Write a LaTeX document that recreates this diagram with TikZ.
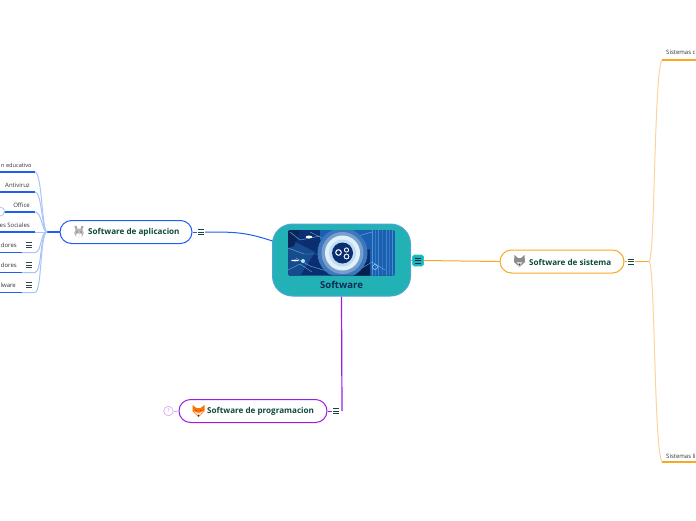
\documentclass[tikz,border=0pt]{standalone}
\usepackage{fontspec}
\setmainfont{Open Sans}
\definecolor{blu}{HTML}{1F5EF0}
\definecolor{blul}{HTML}{A9C4FA}
\definecolor{org}{HTML}{F9A825}
\definecolor{orgl}{HTML}{FBD49A}
\definecolor{pur}{HTML}{9A1FE0}
\definecolor{purl}{HTML}{DDB5F5}
\definecolor{teal1}{HTML}{22B2B5}
\definecolor{edgeb}{HTML}{4FA3D6}
\definecolor{ink}{HTML}{0F4A3C}
\definecolor{navy}{HTML}{0C2A55}
\definecolor{mgrey}{HTML}{33444A}
\definecolor{picdark}{HTML}{0B2E70}
\definecolor{picmid}{HTML}{1B5FB0}
\definecolor{picline}{HTML}{6FB4E8}
\tikzset{
  x=1pt,y=-1pt,
  mainbox/.style={draw=#1,line width=1pt,rounded corners=11.5pt,fill=white,minimum height=23pt,inner sep=0pt},
  maintext/.style={font=\bfseries\fontsize{8.1}{10}\selectfont,text=ink,inner sep=0pt},
  leaf/.style={font=\fontsize{6}{8}\selectfont,text=black!80,inner sep=0pt},
  menu/.style={minimum width=8pt,minimum height=7pt,inner sep=0pt,
    path picture={\draw[#1,line width=.7pt]
      ([xshift=-3.2pt,yshift=-2.5pt]path picture bounding box.center)--++(6.4pt,0pt)
      ([xshift=-3.2pt]path picture bounding box.center)--++(6.4pt,0pt)
      ([xshift=-3.2pt,yshift=2.5pt]path picture bounding box.center)--++(6.4pt,0pt);}},
  thin b/.style={draw=blul,line width=1pt},
  thick b/.style={draw=blu,line width=1.3pt},
  thin o/.style={draw=orgl,line width=1pt},
  thick o/.style={draw=org,line width=1.3pt},
}
\begin{document}
\begin{tikzpicture}
\useasboundingbox (0,0) rectangle (696,520);
\fill[white] (0,0) rectangle (696,520);

% central node
\node[draw=edgeb,line width=1pt,fill=teal1,rounded corners=20pt,minimum width=138pt,minimum height=72pt,inner sep=0pt] (center) at (341.5,260) {};
\node[font=\bfseries\fontsize{9.6}{12}\selectfont,text=navy,inner sep=0pt] (title) at (341.5,284.7) {Software};

% central picture
\begin{scope}
\clip[rounded corners=1.5pt] (288,230) rectangle (395,275.5);
\fill[picdark] (288,230) rectangle (395,276);
\fill[picmid] (320,230) -- (372,230) -- (372,250) -- (320,240) -- cycle;
\fill[picmid!80!black] (288,238) -- (315,252) -- (300,276) -- (288,276) -- cycle;
\fill[picmid] (370,230) rectangle (395,276);
\fill[picdark!80!black] (288,230) -- (300,230) -- (294,246) -- (288,248) -- cycle;
\fill[picdark!70!black] (330,272) -- (370,262) -- (370,276) -- (330,276) -- cycle;
\foreach \xx/\cc in {372/60,375/30,378/50,382/25,386/45,389/30,392/55}{\draw[picline!\cc!picmid,line width=.9pt] (\xx,230)--(\xx,276);}
\draw[picline,line width=.4pt] (288,248)--(304,254)--(322,254);
\draw[picline,line width=.4pt] (290,232)--(300,240)--(320,236);
\draw[picline,line width=.4pt] (296,258)--(310,266)--(330,272);
\draw[picline,line width=.4pt] (362,268)--(372,262)--(385,270);
\draw[picline,line width=.4pt] (358,236)--(372,232);
\draw[picline,line width=.4pt] (288,270)--(300,264)--(312,272);
\draw[picline,line width=.4pt] (310,232)--(326,240);
\fill[white] (309,237) ellipse (3.5pt and 1.4pt);
\fill[white] (295,260.5) ellipse (4pt and .8pt);
\fill[white!70!cyan] (303,261) circle (2pt);
\draw[white!60!cyan,line width=.5pt] (375,267) circle (2.5pt);
% rings
\fill[picmid!85!white] (342.5,253) circle (25pt);
\fill[picmid!60!white] (342.5,253) circle (21pt);
\fill[white!80!picline] (342.5,253) circle (17.5pt);
\fill[white!55!picline] (342.5,253) circle (13.5pt);
\fill[picdark] (342.5,253) circle (10.5pt);
\draw[white,line width=1pt] (338.5,252.5) circle (2.8pt);
\draw[white,line width=.9pt] (346.5,250) circle (2.1pt);
\draw[white,line width=.9pt] (346.5,256.5) circle (2.4pt);
\end{scope}

% main nodes
\node[mainbox=blu,minimum width=132pt] (app) at (126,232) {};
\node[mainbox=org,minimum width=124pt] (sis) at (562,261.5) {};
\node[mainbox=pur,minimum width=148pt] (pro) at (253,411) {};
\node[maintext,anchor=west] (appt) at (88,232.6) {Software de aplicacion};
\node[maintext,anchor=west] (sist) at (529,262.6) {Software de sistema};
\node[maintext,anchor=west] (prot) at (207,411.6) {Software de programacion};

% rabbit icon
\begin{scope}[shift={(79,232)}]
  \fill[black!35] (-4.6,-6)--(-2.4,-6)--(-.8,-1)--(-3,-1)--cycle;
  \fill[black!35] (4.6,-6)--(2.4,-6)--(.8,-1)--(3,-1)--cycle;
  \fill[black!28] (0,1) ellipse (4.8pt and 4.4pt);
  \fill[white] (0,3.2) ellipse (3pt and 2pt);
  \fill[pink] (0,2) circle (.9pt);
  \fill[black!70] (-2,0) circle (.6pt) (2,0) circle (.6pt);
\end{scope}
% wolf icon
\begin{scope}[shift={(519.5,261)}]
  \fill[black!45] (-5,-6)--(-1.5,-3)--(1.5,-3)--(5,-6)--(5.5,1)--(0,6)--(-5.5,1)--cycle;
  \fill[black!18] (-3,1)--(3,1)--(0,6)--cycle;
  \fill[black!80] (0,3.5) circle (.9pt);
\end{scope}
% fox icon
\begin{scope}[shift={(198.5,411)}]
  \fill[orange!90!red] (-6,-6)--(-2,-3)--(2,-3)--(6,-6)--(6,0)--(0,6)--(-6,0)--cycle;
  \fill[orange!25] (-5,0)--(0,2)--(5,0)--(0,5.5)--cycle;
  \fill[black!80] (0,4.6) circle (.9pt) (-2.4,-.5) circle (.6pt) (2.4,-.5) circle (.6pt);
\end{scope}

% menus
\node[draw=teal1!60!cyan,fill=teal1,line width=.6pt,rounded corners=1.5pt,minimum size=11pt,inner sep=0pt] (mcbox) at (418,260.5) {};
\node[menu=navy] (mc) at (418,260.5) {};
\node[menu=ink] (ma) at (201,232) {};
\node[menu=ink] (ms) at (631,261.5) {};
\node[menu=ink] (mp) at (336,411) {};

% main connectors
\coordinate (ptrunk) at (47,232);
\coordinate (strunk) at (649,261.5);
\coordinate (pcorner) at (342,411);
\coordinate (cleft) at (272.5,241);
\draw[blu,line width=1pt] (ma.east) .. controls (235,232) and (245,232) .. (cleft);
\draw[org,line width=1pt] (mcbox.east) -- (sis.west);
\draw[pur,line width=1.2pt] (center.south) -- (pcorner);
\draw[blu,line width=.8pt] (app.east) -- (ma.west);
\draw[org,line width=.8pt] (sis.east) -- (ms.west);
\draw[pur,line width=.8pt] (pro.east) -- (mp.west);
\draw[org,line width=.8pt] (center.east |- mcbox) -- (mcbox.west);
\draw[blu,line width=1.2pt] (app.west) -- (ptrunk);
\draw[org,line width=1pt] (ms.east) -- (strunk);

% left leaves
\node[leaf,anchor=west,font=\fontsize{5.6}{8}\selectfont] (ta) at (1,165) {n educativo};
\foreach \nm/\tx/\ty/\txt in {
  b/30/185.5/Antiviruz, c/30/205.5/Office, d/30/225.5/es Sociales,
  e/17/245.5/dores, f/17/265.5/dores, g/16/285.5/lware}{
  \node[leaf,anchor=east] (t\nm) at (\tx,\ty) {\txt};
}
\foreach \nm/\yy/\ex in {a/172/35,b/192/35,c/212/35,d/232/35,e/252.5/22,f/272.5/22,g/292.5/22}{
  \coordinate (l\nm) at (0,\yy);
  \coordinate (e\nm) at (\ex,\yy);
  \coordinate (k\nm) at (35,\yy);
}
\draw[thin b] (ptrunk) .. controls (42,232) and (42,172) .. (ka);
\draw[thin b] (ptrunk) .. controls (42,232) and (42,192) .. (kb);
\draw[thin b] (ptrunk) .. controls (42,232) and (42,212) .. (kc);
\draw[thin b] (ptrunk) -- (kd);
\draw[thin b] (ptrunk) .. controls (40,232) and (42,252.5) .. (ke) -- (ee);
\draw[thin b] (ptrunk) .. controls (40,232) and (42,272.5) .. (kf) -- (ef);
\draw[thin b] (ptrunk) .. controls (40,232) and (42,292.5) .. (kg) -- (eg);
\foreach \nm in {a,b,c,d,e,f,g}{\draw[thick b] (l\nm) -- (e\nm);}
\node[menu=mgrey] (me) at (29,245) {};
\node[menu=mgrey] (mf) at (29,265) {};
\node[menu=mgrey] (mg) at (29,285) {};

% collapsed markers
\node[circle,draw=blul,fill=white,line width=.8pt,minimum size=9pt,inner sep=0pt] (q1) at (0,211.5) {};
\node[circle,draw=purl,fill=white,line width=.8pt,minimum size=9.5pt,inner sep=0pt,font=\fontsize{5}{5}\selectfont,text=pur!60] (q2) at (168.5,411) {?};
\draw[purl,line width=.8pt] (q2.east) -- (pro.west);

% right leaves
\node[leaf,anchor=west] (ts1) at (666,52) {Sistemas c};
\node[leaf,anchor=west] (ts2) at (666,456.5) {Sistemas li};
\coordinate (r1) at (662,60);
\coordinate (r2) at (662,462);
\coordinate (r1e) at (696,60);
\coordinate (r2e) at (696,462);
\draw[thin o] (strunk) .. controls (655,261) and (654,70) .. (r1);
\draw[thin o] (strunk) .. controls (655,262) and (654,452) .. (r2);
\draw[thick o] (r1) -- (r1e);
\draw[thick o] (r2) -- (r2e);
\end{tikzpicture}
\end{document}
